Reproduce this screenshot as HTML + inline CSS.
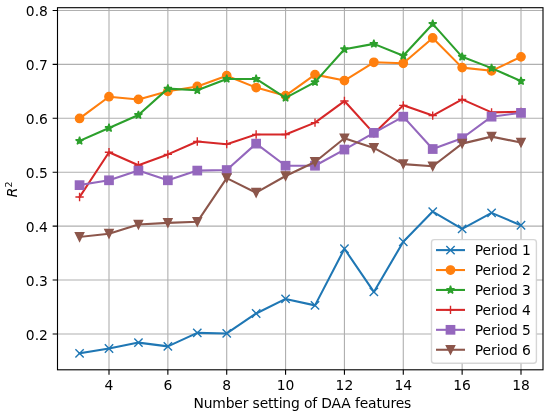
<!DOCTYPE html>
<html><head><meta charset="utf-8"><title>R2 vs number of DAA features</title>
<style>html,body{margin:0;padding:0;background:#fff}body{width:550px;height:414px;position:relative;overflow:hidden}</style></head>
<body>
<svg width="550" height="414" viewBox="0 0 550 414" style="display:block;position:absolute;left:0;top:0" font-family="'DejaVu Sans','Liberation Sans',sans-serif" font-size="13.89px" fill="#000">
<rect width="550" height="414" fill="#fff"/>
<path d="M109 7.7V369.8M167.86 7.7V369.8M226.71 7.7V369.8M285.57 7.7V369.8M344.43 7.7V369.8M403.28 7.7V369.8M462.14 7.7V369.8M521 7.7V369.8M57.5 333.97H543M57.5 280.05H543M57.5 226.13H543M57.5 172.21H543M57.5 118.29H543M57.5 64.37H543M57.5 10.45H543" stroke="#b0b0b0" stroke-width="1.11" fill="none"/>
<path d="M109 369.8v4.86M167.86 369.8v4.86M226.71 369.8v4.86M285.57 369.8v4.86M344.43 369.8v4.86M403.28 369.8v4.86M462.14 369.8v4.86M521 369.8v4.86M57.5 333.97h-4.86M57.5 280.05h-4.86M57.5 226.13h-4.86M57.5 172.21h-4.86M57.5 118.29h-4.86M57.5 64.37h-4.86M57.5 10.45h-4.86" stroke="#000" stroke-width="1.11" fill="none"/>
<clipPath id="c"><rect x="57.5" y="7.7" width="485.5" height="362.1"/></clipPath>
<g clip-path="url(#c)">
<polyline points="79.57,353.38 109,348.53 138.43,342.6 167.86,346.37 197.28,332.89 226.71,333.43 256.14,313.48 285.57,298.92 315,305.39 344.43,248.78 373.86,291.91 403.28,241.77 432.71,211.57 462.14,228.83 491.57,212.87 521,225.27" fill="none" stroke="#1f77b4" stroke-width="2.08" stroke-linejoin="round" stroke-linecap="square"/>
<path d="M75.4 349.21L83.74 357.55M75.4 357.55L83.74 349.21" stroke="#1f77b4" stroke-width="1.39" fill="none"/>
<path d="M104.83 344.36L113.17 352.7M104.83 352.7L113.17 344.36" stroke="#1f77b4" stroke-width="1.39" fill="none"/>
<path d="M134.26 338.43L142.59 346.76M134.26 346.76L142.59 338.43" stroke="#1f77b4" stroke-width="1.39" fill="none"/>
<path d="M163.69 342.2L172.02 350.54M163.69 350.54L172.02 342.2" stroke="#1f77b4" stroke-width="1.39" fill="none"/>
<path d="M193.12 328.72L201.45 337.06M193.12 337.06L201.45 328.72" stroke="#1f77b4" stroke-width="1.39" fill="none"/>
<path d="M222.55 329.26L230.88 337.6M222.55 337.6L230.88 329.26" stroke="#1f77b4" stroke-width="1.39" fill="none"/>
<path d="M251.97 309.31L260.31 317.65M251.97 317.65L260.31 309.31" stroke="#1f77b4" stroke-width="1.39" fill="none"/>
<path d="M281.4 294.76L289.74 303.09M281.4 303.09L289.74 294.76" stroke="#1f77b4" stroke-width="1.39" fill="none"/>
<path d="M310.83 301.23L319.17 309.56M310.83 309.56L319.17 301.23" stroke="#1f77b4" stroke-width="1.39" fill="none"/>
<path d="M340.26 244.61L348.59 252.94M340.26 252.94L348.59 244.61" stroke="#1f77b4" stroke-width="1.39" fill="none"/>
<path d="M369.69 287.75L378.02 296.08M369.69 296.08L378.02 287.75" stroke="#1f77b4" stroke-width="1.39" fill="none"/>
<path d="M399.12 237.6L407.45 245.93M399.12 245.93L407.45 237.6" stroke="#1f77b4" stroke-width="1.39" fill="none"/>
<path d="M428.55 207.4L436.88 215.74M428.55 215.74L436.88 207.4" stroke="#1f77b4" stroke-width="1.39" fill="none"/>
<path d="M457.98 224.66L466.31 232.99M457.98 232.99L466.31 224.66" stroke="#1f77b4" stroke-width="1.39" fill="none"/>
<path d="M487.4 208.7L495.74 217.03M487.4 217.03L495.74 208.7" stroke="#1f77b4" stroke-width="1.39" fill="none"/>
<path d="M516.83 221.1L525.17 229.43M516.83 229.43L525.17 221.1" stroke="#1f77b4" stroke-width="1.39" fill="none"/>
<polyline points="79.57,118.45 109,96.72 138.43,99.42 167.86,91.33 197.28,86.48 226.71,75.69 256.14,87.56 285.57,95.64 315,74.61 344.43,80.55 373.86,62.27 403.28,63.29 432.71,37.95 462.14,67.61 491.57,70.84 521,56.82" fill="none" stroke="#ff7f0e" stroke-width="2.08" stroke-linejoin="round" stroke-linecap="square"/>
<circle cx="79.57" cy="118.45" r="4.17" fill="#ff7f0e" stroke="#ff7f0e" stroke-width="1.39"/>
<circle cx="109" cy="96.72" r="4.17" fill="#ff7f0e" stroke="#ff7f0e" stroke-width="1.39"/>
<circle cx="138.43" cy="99.42" r="4.17" fill="#ff7f0e" stroke="#ff7f0e" stroke-width="1.39"/>
<circle cx="167.86" cy="91.33" r="4.17" fill="#ff7f0e" stroke="#ff7f0e" stroke-width="1.39"/>
<circle cx="197.28" cy="86.48" r="4.17" fill="#ff7f0e" stroke="#ff7f0e" stroke-width="1.39"/>
<circle cx="226.71" cy="75.69" r="4.17" fill="#ff7f0e" stroke="#ff7f0e" stroke-width="1.39"/>
<circle cx="256.14" cy="87.56" r="4.17" fill="#ff7f0e" stroke="#ff7f0e" stroke-width="1.39"/>
<circle cx="285.57" cy="95.64" r="4.17" fill="#ff7f0e" stroke="#ff7f0e" stroke-width="1.39"/>
<circle cx="315" cy="74.61" r="4.17" fill="#ff7f0e" stroke="#ff7f0e" stroke-width="1.39"/>
<circle cx="344.43" cy="80.55" r="4.17" fill="#ff7f0e" stroke="#ff7f0e" stroke-width="1.39"/>
<circle cx="373.86" cy="62.27" r="4.17" fill="#ff7f0e" stroke="#ff7f0e" stroke-width="1.39"/>
<circle cx="403.28" cy="63.29" r="4.17" fill="#ff7f0e" stroke="#ff7f0e" stroke-width="1.39"/>
<circle cx="432.71" cy="37.95" r="4.17" fill="#ff7f0e" stroke="#ff7f0e" stroke-width="1.39"/>
<circle cx="462.14" cy="67.61" r="4.17" fill="#ff7f0e" stroke="#ff7f0e" stroke-width="1.39"/>
<circle cx="491.57" cy="70.84" r="4.17" fill="#ff7f0e" stroke="#ff7f0e" stroke-width="1.39"/>
<circle cx="521" cy="56.82" r="4.17" fill="#ff7f0e" stroke="#ff7f0e" stroke-width="1.39"/>
<polyline points="79.57,140.94 109,128 138.43,115.05 167.86,88.63 197.28,90.25 226.71,78.93 256.14,78.93 285.57,97.8 315,82.16 344.43,49.27 373.86,43.88 403.28,55.74 432.71,23.93 462.14,56.82 491.57,68.14 521,81.09" fill="none" stroke="#2ca02c" stroke-width="2.08" stroke-linejoin="round" stroke-linecap="square"/>
<polygon points="79.57,136.77 80.51,139.65 83.53,139.65 81.08,141.43 82.02,144.31 79.57,142.53 77.12,144.31 78.06,141.43 75.61,139.65 78.63,139.65" fill="#2ca02c" stroke="#2ca02c" stroke-width="1.39" stroke-linejoin="bevel"/>
<polygon points="109,123.83 109.93,126.71 112.96,126.71 110.51,128.49 111.45,131.37 109,129.59 106.55,131.37 107.48,128.49 105.04,126.71 108.06,126.71" fill="#2ca02c" stroke="#2ca02c" stroke-width="1.39" stroke-linejoin="bevel"/>
<polygon points="138.43,110.89 139.36,113.77 142.39,113.77 139.94,115.55 140.88,118.43 138.43,116.65 135.98,118.43 136.91,115.55 134.46,113.77 137.49,113.77" fill="#2ca02c" stroke="#2ca02c" stroke-width="1.39" stroke-linejoin="bevel"/>
<polygon points="167.86,84.47 168.79,87.35 171.82,87.35 169.37,89.13 170.3,92 167.86,90.23 165.41,92 166.34,89.13 163.89,87.35 166.92,87.35" fill="#2ca02c" stroke="#2ca02c" stroke-width="1.39" stroke-linejoin="bevel"/>
<polygon points="197.28,86.08 198.22,88.96 201.25,88.96 198.8,90.74 199.73,93.62 197.28,91.84 194.84,93.62 195.77,90.74 193.32,88.96 196.35,88.96" fill="#2ca02c" stroke="#2ca02c" stroke-width="1.39" stroke-linejoin="bevel"/>
<polygon points="226.71,74.76 227.65,77.64 230.68,77.64 228.23,79.42 229.16,82.3 226.71,80.52 224.26,82.3 225.2,79.42 222.75,77.64 225.78,77.64" fill="#2ca02c" stroke="#2ca02c" stroke-width="1.39" stroke-linejoin="bevel"/>
<polygon points="256.14,74.76 257.08,77.64 260.1,77.64 257.66,79.42 258.59,82.3 256.14,80.52 253.69,82.3 254.63,79.42 252.18,77.64 255.21,77.64" fill="#2ca02c" stroke="#2ca02c" stroke-width="1.39" stroke-linejoin="bevel"/>
<polygon points="285.57,93.63 286.51,96.51 289.53,96.51 287.08,98.29 288.02,101.17 285.57,99.39 283.12,101.17 284.06,98.29 281.61,96.51 284.63,96.51" fill="#2ca02c" stroke="#2ca02c" stroke-width="1.39" stroke-linejoin="bevel"/>
<polygon points="315,78 315.93,80.88 318.96,80.88 316.51,82.66 317.45,85.53 315,83.76 312.55,85.53 313.49,82.66 311.04,80.88 314.06,80.88" fill="#2ca02c" stroke="#2ca02c" stroke-width="1.39" stroke-linejoin="bevel"/>
<polygon points="344.43,45.11 345.36,47.98 348.39,47.98 345.94,49.76 346.88,52.64 344.43,50.86 341.98,52.64 342.91,49.76 340.46,47.98 343.49,47.98" fill="#2ca02c" stroke="#2ca02c" stroke-width="1.39" stroke-linejoin="bevel"/>
<polygon points="373.86,39.71 374.79,42.59 377.82,42.59 375.37,44.37 376.31,47.25 373.86,45.47 371.41,47.25 372.34,44.37 369.89,42.59 372.92,42.59" fill="#2ca02c" stroke="#2ca02c" stroke-width="1.39" stroke-linejoin="bevel"/>
<polygon points="403.28,51.58 404.22,54.46 407.25,54.46 404.8,56.23 405.73,59.11 403.28,57.33 400.84,59.11 401.77,56.23 399.32,54.46 402.35,54.46" fill="#2ca02c" stroke="#2ca02c" stroke-width="1.39" stroke-linejoin="bevel"/>
<polygon points="432.71,19.76 433.65,22.64 436.68,22.64 434.23,24.42 435.16,27.3 432.71,25.52 430.26,27.3 431.2,24.42 428.75,22.64 431.78,22.64" fill="#2ca02c" stroke="#2ca02c" stroke-width="1.39" stroke-linejoin="bevel"/>
<polygon points="462.14,52.65 463.08,55.53 466.1,55.53 463.66,57.31 464.59,60.19 462.14,58.41 459.69,60.19 460.63,57.31 458.18,55.53 461.21,55.53" fill="#2ca02c" stroke="#2ca02c" stroke-width="1.39" stroke-linejoin="bevel"/>
<polygon points="491.57,63.98 492.51,66.86 495.53,66.86 493.08,68.64 494.02,71.52 491.57,69.74 489.12,71.52 490.06,68.64 487.61,66.86 490.63,66.86" fill="#2ca02c" stroke="#2ca02c" stroke-width="1.39" stroke-linejoin="bevel"/>
<polygon points="521,76.92 521.93,79.8 524.96,79.8 522.51,81.58 523.45,84.46 521,82.68 518.55,84.46 519.49,81.58 517.04,79.8 520.06,79.8" fill="#2ca02c" stroke="#2ca02c" stroke-width="1.39" stroke-linejoin="bevel"/>
<polyline points="79.57,197.01 109,152.26 138.43,165.2 167.86,154.42 197.28,141.48 226.71,144.17 256.14,134.47 285.57,134.47 315,122.6 344.43,101.04 373.86,133.39 403.28,105.35 432.71,115.59 462.14,99.42 491.57,112.36 521,111.82" fill="none" stroke="#d62728" stroke-width="2.08" stroke-linejoin="round" stroke-linecap="square"/>
<path d="M75.4 197.01L83.74 197.01M79.57 192.85L79.57 201.18" stroke="#d62728" stroke-width="1.39" fill="none"/>
<path d="M104.83 152.26L113.17 152.26M109 148.09L109 156.43" stroke="#d62728" stroke-width="1.39" fill="none"/>
<path d="M134.26 165.2L142.59 165.2M138.43 161.03L138.43 169.37" stroke="#d62728" stroke-width="1.39" fill="none"/>
<path d="M163.69 154.42L172.02 154.42M167.86 150.25L167.86 158.58" stroke="#d62728" stroke-width="1.39" fill="none"/>
<path d="M193.12 141.48L201.45 141.48M197.28 137.31L197.28 145.64" stroke="#d62728" stroke-width="1.39" fill="none"/>
<path d="M222.55 144.17L230.88 144.17M226.71 140L226.71 148.34" stroke="#d62728" stroke-width="1.39" fill="none"/>
<path d="M251.97 134.47L260.31 134.47M256.14 130.3L256.14 138.63" stroke="#d62728" stroke-width="1.39" fill="none"/>
<path d="M281.4 134.47L289.74 134.47M285.57 130.3L285.57 138.63" stroke="#d62728" stroke-width="1.39" fill="none"/>
<path d="M310.83 122.6L319.17 122.6M315 118.44L315 126.77" stroke="#d62728" stroke-width="1.39" fill="none"/>
<path d="M340.26 101.04L348.59 101.04M344.43 96.87L344.43 105.2" stroke="#d62728" stroke-width="1.39" fill="none"/>
<path d="M369.69 133.39L378.02 133.39M373.86 129.22L373.86 137.55" stroke="#d62728" stroke-width="1.39" fill="none"/>
<path d="M399.12 105.35L407.45 105.35M403.28 101.18L403.28 109.52" stroke="#d62728" stroke-width="1.39" fill="none"/>
<path d="M428.55 115.59L436.88 115.59M432.71 111.43L432.71 119.76" stroke="#d62728" stroke-width="1.39" fill="none"/>
<path d="M457.98 99.42L466.31 99.42M462.14 95.25L462.14 103.58" stroke="#d62728" stroke-width="1.39" fill="none"/>
<path d="M487.4 112.36L495.74 112.36M491.57 108.19L491.57 116.53" stroke="#d62728" stroke-width="1.39" fill="none"/>
<path d="M516.83 111.82L525.17 111.82M521 107.65L521 115.99" stroke="#d62728" stroke-width="1.39" fill="none"/>
<polyline points="79.57,185.15 109,180.3 138.43,170.59 167.86,180.3 197.28,170.59 226.71,170.05 256.14,143.63 285.57,165.74 315,165.74 344.43,149.56 373.86,132.85 403.28,116.67 432.71,149.02 462.14,138.24 491.57,116.67 521,112.9" fill="none" stroke="#9467bd" stroke-width="2.08" stroke-linejoin="round" stroke-linecap="square"/>
<rect x="75.4" y="180.98" width="8.33" height="8.33" fill="#9467bd" stroke="#9467bd" stroke-width="1.39"/>
<rect x="104.83" y="176.13" width="8.33" height="8.33" fill="#9467bd" stroke="#9467bd" stroke-width="1.39"/>
<rect x="134.26" y="166.43" width="8.33" height="8.33" fill="#9467bd" stroke="#9467bd" stroke-width="1.39"/>
<rect x="163.69" y="176.13" width="8.33" height="8.33" fill="#9467bd" stroke="#9467bd" stroke-width="1.39"/>
<rect x="193.12" y="166.43" width="8.33" height="8.33" fill="#9467bd" stroke="#9467bd" stroke-width="1.39"/>
<rect x="222.55" y="165.89" width="8.33" height="8.33" fill="#9467bd" stroke="#9467bd" stroke-width="1.39"/>
<rect x="251.97" y="139.47" width="8.33" height="8.33" fill="#9467bd" stroke="#9467bd" stroke-width="1.39"/>
<rect x="281.4" y="161.57" width="8.33" height="8.33" fill="#9467bd" stroke="#9467bd" stroke-width="1.39"/>
<rect x="310.83" y="161.57" width="8.33" height="8.33" fill="#9467bd" stroke="#9467bd" stroke-width="1.39"/>
<rect x="340.26" y="145.4" width="8.33" height="8.33" fill="#9467bd" stroke="#9467bd" stroke-width="1.39"/>
<rect x="369.69" y="128.68" width="8.33" height="8.33" fill="#9467bd" stroke="#9467bd" stroke-width="1.39"/>
<rect x="399.12" y="112.51" width="8.33" height="8.33" fill="#9467bd" stroke="#9467bd" stroke-width="1.39"/>
<rect x="428.55" y="144.86" width="8.33" height="8.33" fill="#9467bd" stroke="#9467bd" stroke-width="1.39"/>
<rect x="457.98" y="134.07" width="8.33" height="8.33" fill="#9467bd" stroke="#9467bd" stroke-width="1.39"/>
<rect x="487.4" y="112.51" width="8.33" height="8.33" fill="#9467bd" stroke="#9467bd" stroke-width="1.39"/>
<rect x="516.83" y="108.73" width="8.33" height="8.33" fill="#9467bd" stroke="#9467bd" stroke-width="1.39"/>
<polyline points="79.57,236.91 109,233.68 138.43,224.51 167.86,222.89 197.28,221.82 226.71,178.14 256.14,192.7 285.57,175.98 315,161.97 344.43,138.24 373.86,147.95 403.28,164.12 432.71,166.28 462.14,143.63 491.57,136.62 521,142.55" fill="none" stroke="#8c564b" stroke-width="2.08" stroke-linejoin="round" stroke-linecap="square"/>
<path d="M79.57 241.08L75.4 232.75L83.74 232.75Z" fill="#8c564b" stroke="#8c564b" stroke-width="1.39" stroke-linejoin="miter"/>
<path d="M109 237.85L104.83 229.51L113.17 229.51Z" fill="#8c564b" stroke="#8c564b" stroke-width="1.39" stroke-linejoin="miter"/>
<path d="M138.43 228.68L134.26 220.35L142.59 220.35Z" fill="#8c564b" stroke="#8c564b" stroke-width="1.39" stroke-linejoin="miter"/>
<path d="M167.86 227.06L163.69 218.73L172.02 218.73Z" fill="#8c564b" stroke="#8c564b" stroke-width="1.39" stroke-linejoin="miter"/>
<path d="M197.28 225.98L193.12 217.65L201.45 217.65Z" fill="#8c564b" stroke="#8c564b" stroke-width="1.39" stroke-linejoin="miter"/>
<path d="M226.71 182.31L222.55 173.97L230.88 173.97Z" fill="#8c564b" stroke="#8c564b" stroke-width="1.39" stroke-linejoin="miter"/>
<path d="M256.14 196.87L251.97 188.53L260.31 188.53Z" fill="#8c564b" stroke="#8c564b" stroke-width="1.39" stroke-linejoin="miter"/>
<path d="M285.57 180.15L281.4 171.82L289.74 171.82Z" fill="#8c564b" stroke="#8c564b" stroke-width="1.39" stroke-linejoin="miter"/>
<path d="M315 166.13L310.83 157.8L319.17 157.8Z" fill="#8c564b" stroke="#8c564b" stroke-width="1.39" stroke-linejoin="miter"/>
<path d="M344.43 142.41L340.26 134.07L348.59 134.07Z" fill="#8c564b" stroke="#8c564b" stroke-width="1.39" stroke-linejoin="miter"/>
<path d="M373.86 152.11L369.69 143.78L378.02 143.78Z" fill="#8c564b" stroke="#8c564b" stroke-width="1.39" stroke-linejoin="miter"/>
<path d="M403.28 168.29L399.12 159.96L407.45 159.96Z" fill="#8c564b" stroke="#8c564b" stroke-width="1.39" stroke-linejoin="miter"/>
<path d="M432.71 170.45L428.55 162.11L436.88 162.11Z" fill="#8c564b" stroke="#8c564b" stroke-width="1.39" stroke-linejoin="miter"/>
<path d="M462.14 147.8L457.98 139.47L466.31 139.47Z" fill="#8c564b" stroke="#8c564b" stroke-width="1.39" stroke-linejoin="miter"/>
<path d="M491.57 140.79L487.4 132.46L495.74 132.46Z" fill="#8c564b" stroke="#8c564b" stroke-width="1.39" stroke-linejoin="miter"/>
<path d="M521 146.72L516.83 138.39L525.17 138.39Z" fill="#8c564b" stroke="#8c564b" stroke-width="1.39" stroke-linejoin="miter"/>
</g>
<rect x="57.5" y="7.7" width="485.5" height="362.1" fill="none" stroke="#000" stroke-width="1.11" stroke-linejoin="miter"/>
<text x="109" y="390.1" text-anchor="middle">4</text>
<text x="167.86" y="390.1" text-anchor="middle">6</text>
<text x="226.71" y="390.1" text-anchor="middle">8</text>
<text x="285.57" y="390.1" text-anchor="middle">10</text>
<text x="344.43" y="390.1" text-anchor="middle">12</text>
<text x="403.28" y="390.1" text-anchor="middle">14</text>
<text x="462.14" y="390.1" text-anchor="middle">16</text>
<text x="521" y="390.1" text-anchor="middle">18</text>
<text x="47.9" y="339.67" text-anchor="end">0.2</text>
<text x="47.9" y="285.75" text-anchor="end">0.3</text>
<text x="47.9" y="231.83" text-anchor="end">0.4</text>
<text x="47.9" y="177.91" text-anchor="end">0.5</text>
<text x="47.9" y="123.99" text-anchor="end">0.6</text>
<text x="47.9" y="70.07" text-anchor="end">0.7</text>
<text x="47.9" y="16.15" text-anchor="end">0.8</text>
<text x="193.4" y="407.9" textLength="217.9">Number setting of DAA features</text>
<text transform="translate(16.9,189.4) rotate(-90)" text-anchor="middle"><tspan font-style="italic">R</tspan><tspan font-size="9.5px" dy="-4.9">2</tspan></text>
<rect x="431.5" y="239.6" width="104.9" height="123.6" rx="2.8" ry="2.8" fill="#fff" fill-opacity="0.97" stroke="#ccc" stroke-opacity="0.8" stroke-width="1.39"/>
<path d="M436 250.1H465" stroke="#1f77b4" stroke-width="2.08" fill="none"/>
<path d="M446.33 245.93L454.67 254.27M446.33 254.27L454.67 245.93" stroke="#1f77b4" stroke-width="1.39" fill="none"/>
<text x="474.7" y="255.2" textLength="56.2">Period 1</text>
<path d="M436 270.03H465" stroke="#ff7f0e" stroke-width="2.08" fill="none"/>
<circle cx="450.5" cy="270.03" r="4.17" fill="#ff7f0e" stroke="#ff7f0e" stroke-width="1.39"/>
<text x="474.7" y="275.13" textLength="56.2">Period 2</text>
<path d="M436 289.96H465" stroke="#2ca02c" stroke-width="2.08" fill="none"/>
<polygon points="450.5,285.79 451.44,288.67 454.46,288.67 452.01,290.45 452.95,293.33 450.5,291.55 448.05,293.33 448.99,290.45 446.54,288.67 449.56,288.67" fill="#2ca02c" stroke="#2ca02c" stroke-width="1.39" stroke-linejoin="bevel"/>
<text x="474.7" y="295.06" textLength="56.2">Period 3</text>
<path d="M436 309.89H465" stroke="#d62728" stroke-width="2.08" fill="none"/>
<path d="M446.33 309.89L454.67 309.89M450.5 305.72L450.5 314.06" stroke="#d62728" stroke-width="1.39" fill="none"/>
<text x="474.7" y="314.99" textLength="56.2">Period 4</text>
<path d="M436 329.82H465" stroke="#9467bd" stroke-width="2.08" fill="none"/>
<rect x="446.33" y="325.65" width="8.33" height="8.33" fill="#9467bd" stroke="#9467bd" stroke-width="1.39"/>
<text x="474.7" y="334.92" textLength="56.2">Period 5</text>
<path d="M436 349.75H465" stroke="#8c564b" stroke-width="2.08" fill="none"/>
<path d="M450.5 353.92L446.33 345.58L454.67 345.58Z" fill="#8c564b" stroke="#8c564b" stroke-width="1.39" stroke-linejoin="miter"/>
<text x="474.7" y="354.85" textLength="56.2">Period 6</text>
</svg>
</body></html>
